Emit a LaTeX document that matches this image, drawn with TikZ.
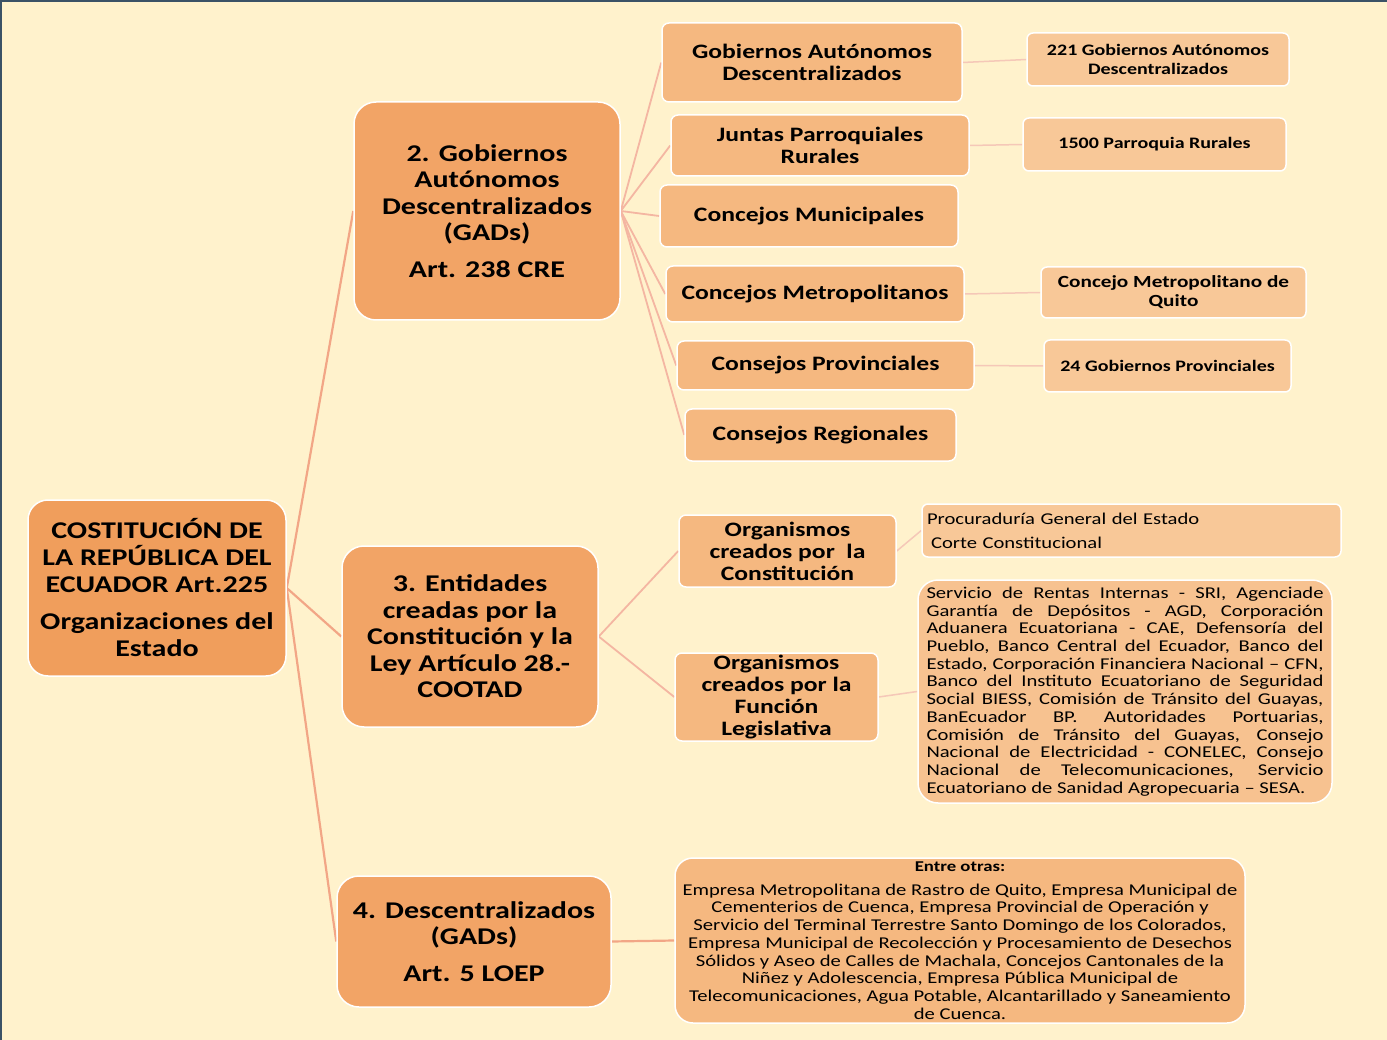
\documentclass[tikz,border=0pt]{standalone}
\usepackage{fontspec}
\setmainfont{Carlito}[FakeStretch=1.25]
\definecolor{bgc}{HTML}{FFF2CC}
\definecolor{framec}{HTML}{3B5266}
\definecolor{rootc}{HTML}{F09E5C}
\definecolor{lvtwo}{HTML}{F2A466}
\definecolor{lvthree}{HTML}{F5B880}
\definecolor{lvfour}{HTML}{F8C898}
\definecolor{lvfourb}{HTML}{F7C290}
\definecolor{lnroot}{HTML}{F2A686}
\definecolor{lnmid}{HTML}{F4B6A2}
\definecolor{lnlight}{HTML}{F5C8B8}
\pgfdeclarelayer{bgl}
\pgfdeclarelayer{lnl}
\pgfsetlayers{bgl,lnl,main}
\tikzset{
  box/.style={draw=white, line width=1.5pt, inner sep=0pt, align=center, font=\bfseries},
  rootbox/.style={box, fill=rootc, rounded corners=20pt, font={\bfseries\fontsize{24}{27}\selectfont}},
  twobox/.style={box, fill=lvtwo, rounded corners=22pt, font={\bfseries\fontsize{24}{26.5}\selectfont}},
  threebox/.style={box, fill=lvthree, rounded corners=7pt, font={\bfseries\fontsize{20.5}{22}\selectfont}},
  fourbox/.style={box, fill=lvfour, rounded corners=6pt, font={\bfseries\fontsize{16}{18.5}\selectfont}},
  textbox/.style={box, fill=lvfourb, rounded corners=20pt, font={\fontsize{16.5}{17.7}\selectfont}},
  rootline/.style={draw=lnroot, line width=2.2pt},
  midline/.style={draw=lnmid, line width=1.8pt},
  lightline/.style={draw=lnlight, line width=1.5pt}
}
\begin{document}
\begin{tikzpicture}[x=1pt,y=-1pt]
\useasboundingbox (0,0) rectangle (1387,1040);
\begin{pgfonlayer}{bgl}
\fill[bgc] (0,0) rectangle (1387,1040);
\draw[framec, line width=2.5pt] (1.2,1040) -- (1.2,1.2) -- (1387,1.2);
\end{pgfonlayer}

% root
\node[rootbox, minimum width=258pt, minimum height=176pt] (root) at (157,588)
  {COSTITUCIÓN DE\\LA REPÚBLICA DEL\\ECUADOR Art.225\\[10pt]Organizaciones del\\Estado};

% level 2
\node[twobox, minimum width=266pt, minimum height=218pt] (g2) at (487,211)
  {2. Gobiernos\\Autónomos\\Descentralizados\\(GADs)\\[10pt]Art. 238 CRE};
\node[twobox, minimum width=256pt, minimum height=181pt] (g3) at (470,636.5)
  {3. Entidades\\creadas por la\\Constitución y la\\Ley Artículo 28.-\\COOTAD};
\node[twobox, minimum width=274pt, minimum height=131pt] (g4) at (474,941.5)
  {4. Descentralizados\\(GADs)\\[10pt]Art. 5 LOEP};

% level 3 (GADs)
\node[threebox, minimum width=300pt, minimum height=79pt] (a1) at (812,62.5)
  {Gobiernos Autónomos\\Descentralizados};
\node[threebox, minimum width=298pt, minimum height=61pt] (a2) at (820,145.5)
  {Juntas Parroquiales\\Rurales};
\node[threebox, minimum width=298pt, minimum height=62pt] (a3) at (809,216)
  {Concejos Municipales};
\node[threebox, minimum width=298pt, minimum height=56pt] (a4) at (815,294)
  {Concejos Metropolitanos};
\node[threebox, minimum width=297pt, minimum height=49pt] (a5) at (825.5,365.5)
  {Consejos Provinciales};
\node[threebox, minimum width=271pt, minimum height=52pt] (a6) at (820.5,435)
  {Consejos Regionales};

% level 4 (GADs)
\node[fourbox, minimum width=262pt, minimum height=53pt] (b1) at (1158,59.5)
  {221 Gobiernos Autónomos\\Descentralizados};
\node[fourbox, minimum width=263pt, minimum height=53pt] (b2) at (1154.5,144.5)
  {1500 Parroquia Rurales};
\node[fourbox, minimum width=265pt, minimum height=51pt, font={\bfseries\fontsize{17}{19}\selectfont}] (b4) at (1173.5,292.5)
  {Concejo Metropolitano de\\Quito};
\node[fourbox, minimum width=247pt, minimum height=52pt] (b5) at (1167.5,366)
  {24 Gobiernos Provinciales};

% level 3 (Entidades)
\node[threebox, minimum width=217pt, minimum height=72pt] (c1) at (787.5,551)
  {Organismos\\creados por\ \ la\\Constitución};
\node[threebox, minimum width=203pt, minimum height=88pt] (c2) at (776.5,697)
  {Organismos\\creados por la\\Función\\Legislativa};

% level 4 (Entidades)
\node[box, fill=lvfour, rounded corners=6pt, minimum width=419pt, minimum height=53pt,
      text width=409pt, align=left, font={\fontsize{16.5}{24}\selectfont}] (d1) at (1131.5,530.5)
  {Procuraduría General del Estado\\\hspace*{4pt}Corte Constitucional};
\node[textbox, minimum width=414pt, minimum height=223pt] (d2) at (1125,691.5)
  {\begin{minipage}{397pt}\fontsize{16.5}{17.7}\selectfont
   \hbox to 397pt{Servicio de Rentas Internas - SRI, Agenciade}
   \hbox to 397pt{Garantía de Depósitos - AGD, Corporación}
   \hbox to 397pt{Aduanera Ecuatoriana - CAE, Defensoría del}
   \hbox to 397pt{Pueblo, Banco Central del Ecuador, Banco del}
   \hbox to 397pt{Estado, Corporación Financiera Nacional – CFN,}
   \hbox to 397pt{Banco del Instituto Ecuatoriano de Seguridad}
   \hbox to 397pt{Social BIESS, Comisión de Tránsito del Guayas,}
   \hbox to 397pt{BanEcuador BP. Autoridades Portuarias,}
   \hbox to 397pt{Comisión de Tránsito del Guayas, Consejo}
   \hbox to 397pt{Nacional de Electricidad - CONELEC, Consejo}
   \hbox to 397pt{Nacional de Telecomunicaciones, Servicio}
   \hbox{Ecuatoriano de Sanidad Agropecuaria – SESA.}
   \end{minipage}};

% level 3 (Descentralizados)
\node[textbox, fill=lvthree, rounded corners=18pt, minimum width=570pt, minimum height=165pt] (e1) at (960,940.5)
  {{\bfseries\fontsize{15}{17.6}\selectfont Entre otras:}\\[6pt]
   Empresa Metropolitana de Rastro de Quito, Empresa Municipal de\\
   Cementerios de Cuenca, Empresa Provincial de Operación y\\
   Servicio del Terminal Terrestre Santo Domingo de los Colorados,\\
   Empresa Municipal de Recolección y Procesamiento de Desechos\\
   Sólidos y Aseo de Calles de Machala, Concejos Cantonales de la\\
   Niñez y Adolescencia, Empresa Pública Municipal de\\
   Telecomunicaciones, Agua Potable, Alcantarillado y Saneamiento\\
   de Cuenca.};

% connectors
\begin{pgfonlayer}{lnl}
\draw[rootline] (root.east) -- (g2.west);
\draw[rootline] (root.east) -- (g3.west);
\draw[rootline] (root.east) -- (g4.west);
\foreach \t in {a1,a2,a3,a4,a5,a6} \draw[midline] (g2.east) -- (\t.west);
\draw[lightline] (a1.east) -- (b1.west);
\draw[lightline] (a2.east) -- (b2.west);
\draw[lightline] (a4.east) -- (b4.west);
\draw[lightline] (a5.east) -- (b5.west);
\draw[midline] (g3.east) -- (c1.west);
\draw[midline] (g3.east) -- (c2.west);
\draw[lightline] (c1.east) -- (d1.west);
\draw[lightline] (c2.east) -- (d2.west);
\draw[rootline] (g4.east) -- (e1.west);
\end{pgfonlayer}
\end{tikzpicture}
\end{document}
